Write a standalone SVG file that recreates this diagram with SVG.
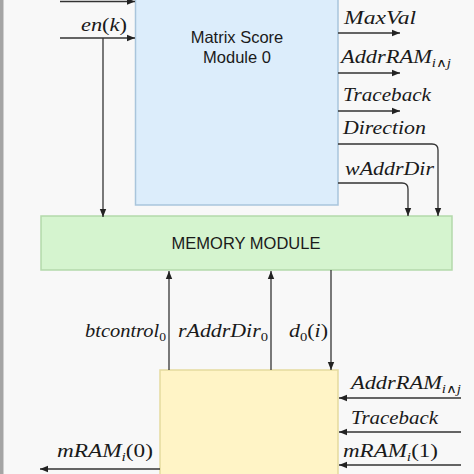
<svg xmlns="http://www.w3.org/2000/svg" width="474" height="474" viewBox="0 0 474 474">
<style>
.m{font-family:"Liberation Serif","DejaVu Serif",serif;font-style:italic;font-size:18px;fill:#1a1a1a}
.u{font-style:normal}
.s{font-size:12px}
.t{font-family:"Liberation Sans",Arial,sans-serif;font-size:16.5px;fill:#1a1a1a;text-anchor:middle}
.w{fill:none;stroke:#333;stroke-width:1.3}
</style>
<defs>
<marker id="a" viewBox="0 0 8 8" refX="8" refY="4" markerWidth="8" markerHeight="8" markerUnits="userSpaceOnUse" orient="auto">
<path d="M0,0.8 L8,4 L0,7.2 Z" fill="#222"/>
</marker>
</defs>
<rect width="474" height="474" fill="#f8f8f8"/>
<rect x="0" y="0" width="3.5" height="474" fill="#a5a5a5"/>
<rect x="60" y="-10" width="75" height="12" fill="#fdfdfd"/>
<g id="matrix">
<rect x="135.5" y="-5" width="202.5" height="210" fill="#dcedfb" stroke="#a9c5dc" stroke-width="1.5"/>
<text class="t" x="237" y="43">Matrix Score</text>
<text class="t" x="237" y="63">Module 0</text>
</g>
<g id="memory">
<rect x="41" y="216" width="411" height="54" fill="#d5f4cf" stroke="#b3d9ab" stroke-width="1.5"/>
<text class="t" x="246" y="249">MEMORY MODULE</text>
</g>
<g id="lower">
<rect x="160" y="370" width="178" height="110" fill="#fff4c6" stroke="#e5da9e" stroke-width="1.5"/>
</g>
<g id="connectors">
<path class="w" d="M60,1.5 H135" marker-end="url(#a)"/>
<path class="w" d="M60,38 H135" marker-end="url(#a)"/>
<path class="w" d="M103,38 V217" marker-end="url(#a)"/>
<path class="w" d="M338,33 H400" marker-end="url(#a)"/>
<path class="w" d="M338,73 H400" marker-end="url(#a)"/>
<path class="w" d="M338,111 H400" marker-end="url(#a)"/>
<path class="w" d="M338,144 H432 Q438,144 438,150 V216" marker-end="url(#a)"/>
<path class="w" d="M338,183 H402 Q408,183 408,189 V216" marker-end="url(#a)"/>
<path class="w" d="M169,370 V271" marker-end="url(#a)"/>
<path class="w" d="M271,370 V271" marker-end="url(#a)"/>
<path class="w" d="M331,270 V370" marker-end="url(#a)"/>
<path class="w" d="M461,398 H339" marker-end="url(#a)"/>
<path class="w" d="M461,432 H339" marker-end="url(#a)"/>
<path class="w" d="M461,465 H339" marker-end="url(#a)"/>
<path class="w" d="M160,469 H40" marker-end="url(#a)"/>
</g>
<g id="labels">
<text class="m" x="81" y="31" textLength="46" lengthAdjust="spacingAndGlyphs">en<tspan class="u">(</tspan>k<tspan class="u">)</tspan></text>
<text class="m" x="344" y="24" textLength="72" lengthAdjust="spacingAndGlyphs">MaxVal</text>
<text class="m" x="341" y="63" textLength="110" lengthAdjust="spacingAndGlyphs">AddrRAM<tspan class="s" dy="4">i∧j</tspan></text>
<text class="m" x="343" y="101" textLength="88" lengthAdjust="spacingAndGlyphs">Traceback</text>
<text class="m" x="343" y="134" textLength="83" lengthAdjust="spacingAndGlyphs">Direction</text>
<text class="m" x="345" y="175" textLength="89" lengthAdjust="spacingAndGlyphs">wAddrDir</text>
<text class="m" x="85" y="337" textLength="81" lengthAdjust="spacingAndGlyphs">btcontrol<tspan class="s u" dy="4">0</tspan></text>
<text class="m" x="178" y="337" textLength="90" lengthAdjust="spacingAndGlyphs">rAddrDir<tspan class="s u" dy="4">0</tspan></text>
<text class="m" x="289" y="337" textLength="39" lengthAdjust="spacingAndGlyphs">d<tspan class="s u" dy="4">0</tspan><tspan class="u" dy="-4">(</tspan>i<tspan class="u">)</tspan></text>
<text class="m" x="351" y="389" textLength="110" lengthAdjust="spacingAndGlyphs">AddrRAM<tspan class="s" dy="4">i∧j</tspan></text>
<text class="m" x="351" y="424" textLength="87" lengthAdjust="spacingAndGlyphs">Traceback</text>
<text class="m" x="343" y="457" textLength="95" lengthAdjust="spacingAndGlyphs">mRAM<tspan class="s" dy="4">i</tspan><tspan class="u" dy="-4">(1)</tspan></text>
<text class="m" x="57" y="457" textLength="96" lengthAdjust="spacingAndGlyphs">mRAM<tspan class="s" dy="4">i</tspan><tspan class="u" dy="-4">(0)</tspan></text>
</g>
</svg>
